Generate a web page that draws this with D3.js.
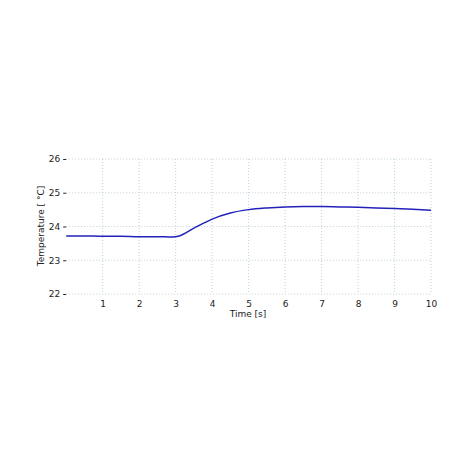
<!DOCTYPE html>
<html><head><meta charset="utf-8">
<script src="https://cdn.jsdelivr.net/npm/d3@7"></script>
<style>body{margin:0;background:#fff}</style></head>
<body><div id="chart"></div>
<script>
var times = [0, 0.5, 1, 1.5, 2, 2.5, 2.9, 3.1, 3.5, 4, 4.5, 5, 5.5, 6, 6.5, 7, 7.5, 8, 8.5, 9, 9.5, 10];
var temps = [23.72, 23.72, 23.71, 23.71, 23.70, 23.70, 23.69, 23.72, 23.95, 24.22, 24.40, 24.50, 24.55, 24.58, 24.59, 24.59, 24.58, 24.57, 24.55, 24.53, 24.51, 24.48];
var xTicks = [1, 2, 3, 4, 5, 6, 7, 8, 9, 10];
var yTicks = [22, 23, 24, 25, 26];

var svg = d3.select('#chart').append('svg').attr('width', 474).attr('height', 474);
var x = d3.scaleLinear().domain([0, 10]).range([66.2, 431]);
var y = d3.scaleLinear().domain([22, 26]).range([294, 159]);
var font = 'DejaVu Sans, sans-serif';

svg.append('g').selectAll('line').data(xTicks).enter().append('line')
  .attr('x1', d => x(d)).attr('x2', d => x(d)).attr('y1', 159).attr('y2', 294)
  .attr('stroke', '#b0c4d0').attr('stroke-width', 0.8).attr('stroke-dasharray', '1,2');
svg.append('g').selectAll('line').data(yTicks).enter().append('line')
  .attr('x1', 66.2).attr('x2', 431).attr('y1', d => y(d)).attr('y2', d => y(d))
  .attr('stroke', '#b0c4d0').attr('stroke-width', 0.8).attr('stroke-dasharray', '1,2');

svg.append('g').attr('transform', 'translate(66.2,0)')
  .call(d3.axisLeft(y).tickValues(yTicks).tickFormat(d3.format('d')).tickSize(3).tickPadding(3))
  .call(g => { g.select('.domain').remove(); g.selectAll('text').attr('font-family', font).attr('font-size', 9).attr('fill', '#222'); g.selectAll('.tick line').attr('stroke', '#222'); });
svg.append('g').attr('transform', 'translate(0,294)')
  .call(d3.axisBottom(x).tickValues(xTicks).tickFormat(d3.format('d')).tickSize(0).tickPadding(7))
  .call(g => { g.select('.domain').remove(); g.selectAll('text').attr('font-family', font).attr('font-size', 9).attr('fill', '#222'); });

svg.append('path').datum(times.map((t, i) => [t, temps[i]]))
  .attr('fill', 'none').attr('stroke', '#2222bb').attr('stroke-width', 1.5)
  .attr('d', d3.line().x(d => x(d[0])).y(d => y(d[1])).curve(d3.curveMonotoneX));

svg.append('text').attr('x', 248).attr('y', 317).attr('text-anchor', 'middle')
  .attr('font-family', font).attr('font-size', 9).attr('fill', '#222').text('Time [s]');
svg.append('text').attr('transform', 'translate(44,226) rotate(-90)').attr('text-anchor', 'middle')
  .attr('font-family', font).attr('font-size', 9).attr('fill', '#222').text('Temperature [ \u00b0C]');
</script></body></html>
